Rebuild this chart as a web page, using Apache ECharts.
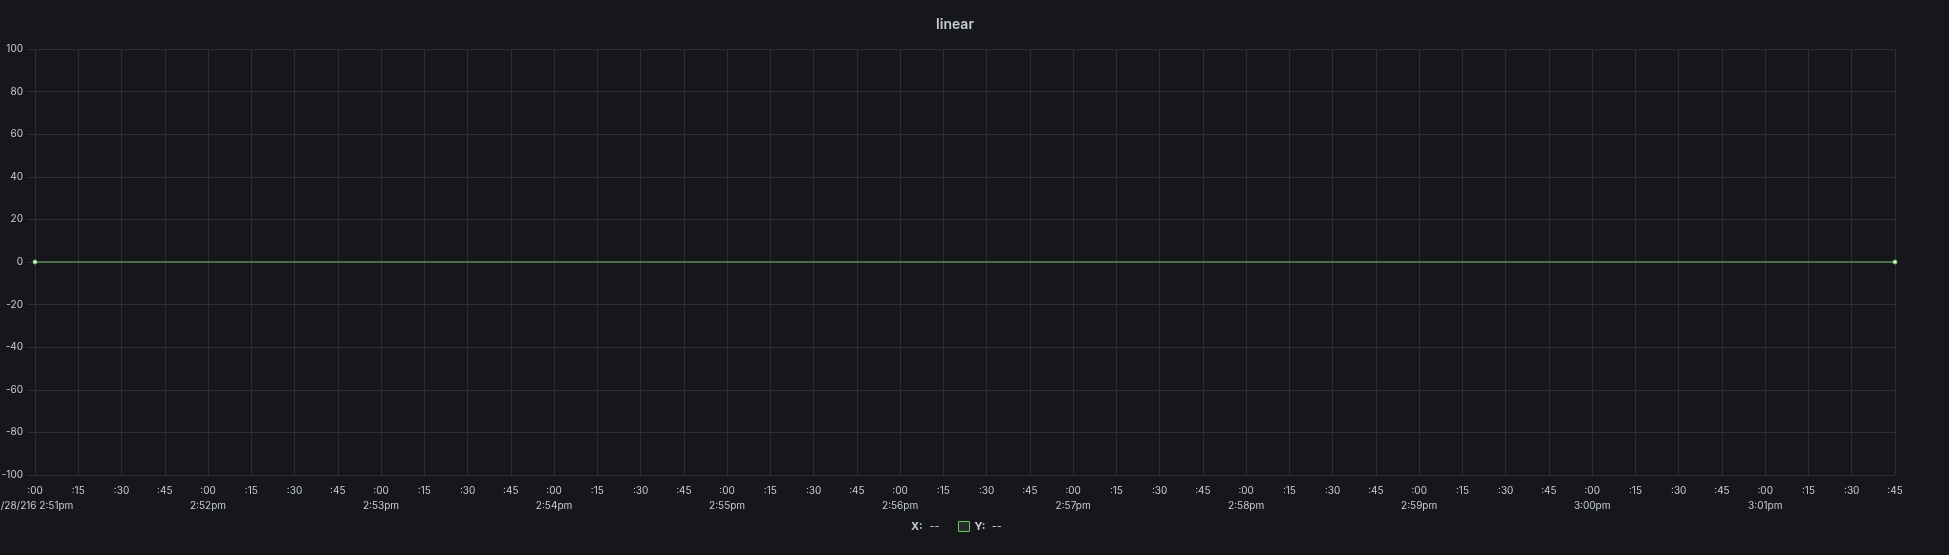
<!DOCTYPE html>
<html>
<head>
<meta charset="utf-8">
<style>
html,body{margin:0;padding:0;background:#16171a;}
#chart{width:1949px;height:555px;}
</style>
<script src="https://cdn.jsdelivr.net/npm/echarts@6/dist/echarts.min.js"></script>
</head>
<body>
<div id="chart"></div>
<script>
// Data (x in seconds after 2:51:00pm)
const xSeconds = [0, 645];
const yValues = [0, 0];
const minuteLabels = ['1/28/216 2:51pm', '2:52pm', '2:53pm', '2:54pm', '2:55pm', '2:56pm', '2:57pm', '2:58pm', '2:59pm', '3:00pm', '3:01pm'];
const yTicks = [-100, -80, -60, -40, -20, 0, 20, 40, 60, 80, 100];

const gridColor = '#2c2e33';
const textColor = '#c7cbd3';
const lineColor = '#73BF69';
const font = 'Inter';

const chart = echarts.init(document.getElementById('chart'), null, {renderer: 'canvas'});
const pts = xSeconds.map((x, i) => [x, yValues[i]]);

chart.setOption({
  backgroundColor: '#16171a',
  animation: false,
  title: {
    text: 'linear',
    left: 950, top: 13, textAlign: 'center',
    textStyle: {color: textColor, fontFamily: font, fontSize: 14, fontWeight: 600}
  },
  grid: {left: 35, right: 54, top: 49, bottom: 80, containLabel: false, outerBoundsMode: 'none'},
  xAxis: [{
    type: 'value', min: 0, max: 645, interval: 15,
    axisLine: {show: false},
    axisTick: {show: true, length: 8, lineStyle: {color: gridColor}},
    splitLine: {show: true, lineStyle: {color: gridColor, width: 1}},
    axisLabel: {
      color: textColor, fontFamily: font, fontSize: 10, margin: 11,
      showMinLabel: true, showMaxLabel: true, hideOverlap: false,
      alignMinLabel: 'center', alignMaxLabel: 'center',
      formatter: function (v) { return ':' + String(v % 60).padStart(2, '0'); }
    }
  }, {
    type: 'value', position: 'bottom', min: 0, max: 645, interval: 60,
    axisLine: {show: false}, axisTick: {show: false}, splitLine: {show: false},
    axisLabel: {
      color: textColor, fontFamily: font, fontSize: 10, margin: 26,
      showMinLabel: true, showMaxLabel: false, hideOverlap: false,
      alignMinLabel: 'center',
      formatter: function (v) { return (v % 60 === 0 && minuteLabels[v / 60]) ? minuteLabels[v / 60] : ''; }
    }
  }],
  yAxis: {
    type: 'value', min: yTicks[0], max: yTicks[yTicks.length - 1], interval: 20,
    axisLine: {show: false},
    axisTick: {show: true, length: 8, lineStyle: {color: gridColor}},
    splitLine: {show: true, lineStyle: {color: gridColor, width: 1}},
    axisLabel: {color: textColor, fontFamily: font, fontSize: 10, margin: 12}
  },
  legend: {
    left: 958, top: 521, padding: 0,
    icon: 'rect', itemWidth: 11, itemHeight: 10, itemGap: 4,
    itemStyle: {color: '#262b26', borderColor: lineColor, borderWidth: 1},
    formatter: function (name) { return '{b|' + name + ':}  {n|--}'; },
    textStyle: {
      color: textColor, fontFamily: font, fontSize: 11,
      rich: {b: {fontWeight: 700, color: textColor, fontFamily: font, fontSize: 11}, n: {color: textColor, fontFamily: font, fontSize: 11}}
    },
    data: ['Y']
  },
  graphic: [{
    type: 'text', left: 911, top: 521,
    style: {
      text: '{b|X:}  {n|--}',
      rich: {b: {fontWeight: 700, fill: textColor, fontFamily: font, fontSize: 11}, n: {fill: textColor, fontFamily: font, fontSize: 11}}
    }
  }],
  series: [{
    name: 'Y', type: 'line', data: pts, xAxisIndex: 0,
    showSymbol: true, symbol: 'circle', symbolSize: 4,
    lineStyle: {color: lineColor, width: 1},
    itemStyle: {color: '#e2f2dc', borderColor: lineColor, borderWidth: 1}
  }]
});
</script>
</body>
</html>
